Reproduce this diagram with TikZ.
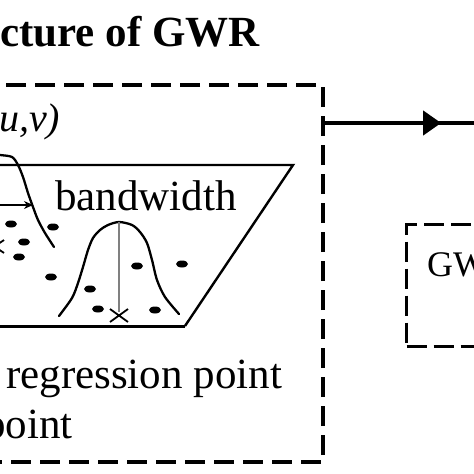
\documentclass[tikz,border=0pt]{standalone}
\usepackage{fontspec}
\setmainfont{Liberation Serif}
\usetikzlibrary{arrows.meta,decorations.markings}
\begin{document}
\begin{tikzpicture}[x=1pt,y=-1pt,
  bigdash/.style={draw, line width=4pt, dash pattern=on 20pt off 9pt},
  smalldash/.style={draw, line width=3.2pt, dash pattern=on 20pt off 7pt},
  dotmark/.style={fill=black},
  bell/.style={line width=2.3pt, line cap=round},
  crossmark/.style={line width=1.8pt},
  txt/.style={inner sep=0pt, anchor=base west, font=\fontsize{43}{50}\selectfont}
]
\useasboundingbox (0,0) rectangle (474,474);
\fill[white] (0,0) rectangle (474,474);
\clip (0,0) rectangle (474,474);

% title
\node[txt, font=\fontsize{43}{50}\selectfont\bfseries] (title) at (0,46) {cture of GWR};

% big dashed box
\node[bigdash, anchor=north west, minimum width=341pt, minimum height=377pt, inner sep=0pt] (bigbox) at (-20,83) {};

% arrow leaving the big box
\coordinate (arrend) at (490,123);
\draw[line width=4pt, postaction={decorate}, decoration={markings, mark=at position 0.704 with {\arrow{Triangle[length=18pt,width=24pt]}}}] (bigbox.north east |- arrend) -- (arrend);

% small dashed box (GWR)
\node[smalldash, anchor=north west, minimum width=160pt, minimum height=122pt, inner sep=0pt] (gwrbox) at (405,223) {};
\node[txt, font=\fontsize{36}{42}\selectfont] (gwrtext) at (427,276) {GW};

% (u,v)
\node[txt, font=\fontsize{40}{48}\selectfont\itshape] (uv) at (-1,131) {u,v)};

% trapezoid plane
\draw[line width=2.4pt] (-20,165) -- (293,165) -- (185,326);
\draw[line width=3pt] (185,326) -- (-20,326);

% left kernel curve
\draw[bell] plot[smooth] coordinates {(-15,153) (0,155) (12,157) (18,165) (23,177) (28,193) (33,207) (38,220) (45,233) (54,247)};
\coordinate (leftarrstart) at (-5,205);
\coordinate (leftarrend) at (33,205);
\draw[line width=1.4pt, -{Stealth[length=9pt,width=8pt]}] (leftarrstart) -- (leftarrend);

% left points
\foreach \p in {(11,224),(53,227),(24,242),(19,257),(51,277)}
  \fill[dotmark] \p ellipse [x radius=6pt, y radius=3.5pt];
\draw[crossmark] (-15,240) -- (4,253) (-15,253) -- (4,240);

% bandwidth label
\node[txt] (bw) at (55,210) {bandwidth};

% central kernel
\draw[bell] plot[smooth] coordinates {(59,316) (72,298) (78,283) (83,267) (88,250) (93,238) (100,230) (108,225) (119,222) (132,225) (140,232) (147,243) (152,260) (157,280) (165,297) (179,314)};
\draw[line width=2pt, gray] (119,222) -- (119,312);
\draw[crossmark] (110,309) -- (128,322) (110,322) -- (128,309);
\foreach \p in {(137,266),(182,264),(90,289),(98,309),(155,310)}
  \fill[dotmark] \p ellipse [x radius=6pt, y radius=3.5pt];

% legend text
\node[txt] (leg1) at (6,388) {regression point};
\node[txt] (leg2) at (-16,438) {point};
\end{tikzpicture}
\end{document}
